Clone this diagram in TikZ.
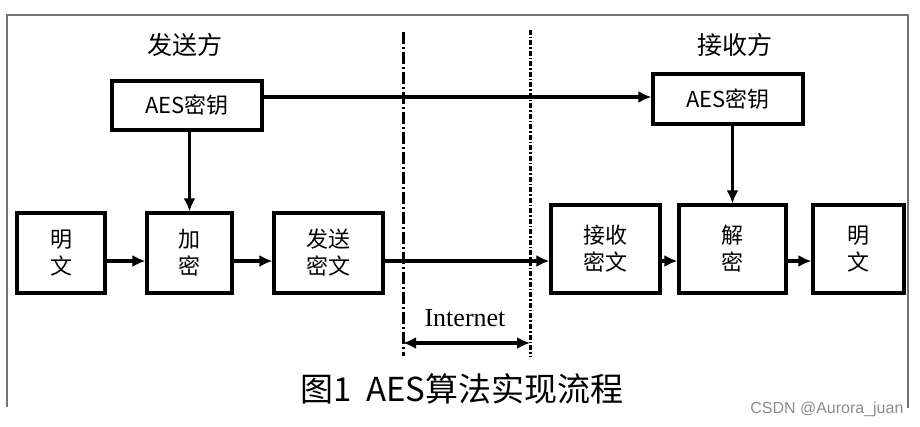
\documentclass[tikz,border=0pt]{standalone}
\usepackage{fontspec}
\newfontfamily\cjk{Noto Sans CJK SC}
\newfontfamily\serifnet{Liberation Serif}
\usetikzlibrary{arrows.meta}
\begin{document}
\begin{tikzpicture}[x=1pt,y=-1pt,
  box/.style={draw=black,line width=3.2pt,inner sep=0pt,align=center,
    font=\cjk\fontsize{22}{27}\selectfont},
  flow/.style={line width=3.2pt,-{Latex[length=13pt,width=12pt]}},
  sepline/.style={line width=3pt,dash pattern=on 12pt off 3pt on 2pt off 3pt},
  sepline2/.style={line width=3pt,dash pattern=on 5pt off 2pt on 1.5pt off 2pt},
  frame/.style={draw=black!55,line width=1.4pt},
  head/.style={font=\cjk\fontsize{25}{30}\selectfont}]
\useasboundingbox (0,0) rectangle (920,427);
% frame
\draw[frame] (7,407) -- (7,15) -- (908,15) -- (908,408);
% headings
\node[head] (hs) at (185,45) {发送方};
\node[head] (hr) at (735,45) {接收方};
% key boxes
\node[box,minimum width=150pt,minimum height=49pt] (keyL) at (187,105.5) {AES密钥};
\node[box,minimum width=150pt,minimum height=50pt] (keyR) at (728,99) {AES密钥};
% bottom boxes
\node[box,minimum width=88pt,minimum height=80pt] (mingL) at (61,253) {明\\文};
\node[box,minimum width=85pt,minimum height=80pt] (jia) at (189.5,253) {加\\密};
\node[box,minimum width=109pt,minimum height=80pt] (fasong) at (328.5,253) {发送\\密文};
\node[box,minimum width=109pt,minimum height=88pt] (jieshou) at (605.5,249) {接收\\密文};
\node[box,minimum width=107pt,minimum height=88pt] (jie) at (732.5,249) {解\\密};
\node[box,minimum width=91pt,minimum height=88pt] (mingR) at (858.5,249) {明\\文};
% helper coordinates
\coordinate (ky) at (0,97);
\coordinate (ay) at (0,261);
% separators
\coordinate (s1t) at (403,32);
\coordinate (s1b) at (403,356);
\coordinate (s2t) at (530,30);
\coordinate (s2b) at (530,356);
\draw[sepline] (s1t) -- (s1b);
\draw[sepline2] (s2t) -- (s2b);
% arrows
\draw[flow] (keyL.east |- ky) -- (keyR.west |- ky);
\draw[flow] (keyL.south -| jia.north) -- (jia.north);
\draw[flow] (keyR.south -| jie.north) -- (jie.north);
\draw[flow] (mingL.east |- ay) -- (jia.west |- ay);
\draw[flow] (jia.east |- ay) -- (fasong.west |- ay);
\draw[flow] (fasong.east |- ay) -- (jieshou.west |- ay);
\draw[flow] (jieshou.east |- ay) -- (jie.west |- ay);
\draw[flow] (jie.east |- ay) -- (mingR.west |- ay);
% internet
\coordinate (ia) at (403,343);
\coordinate (ib) at (530,343);
\draw[line width=3.2pt,{Latex[length=13pt,width=12pt]}-{Latex[length=13pt,width=12pt]}] (ia) -- (ib);
\node[font=\serifnet\fontsize{26}{30}\selectfont] (inet) at (465,318) {Internet};
% caption
\node[font=\cjk\fontsize{33}{38}\selectfont] (cap) at (462,389) {图1\ \ AES算法实现流程};
% watermark
\node[font=\fontspec{Liberation Sans}\fontsize{16}{18}\selectfont,text=black!45,anchor=east] (wm) at (907,409) {CSDN @Aurora\_juan};
\end{tikzpicture}
\end{document}
